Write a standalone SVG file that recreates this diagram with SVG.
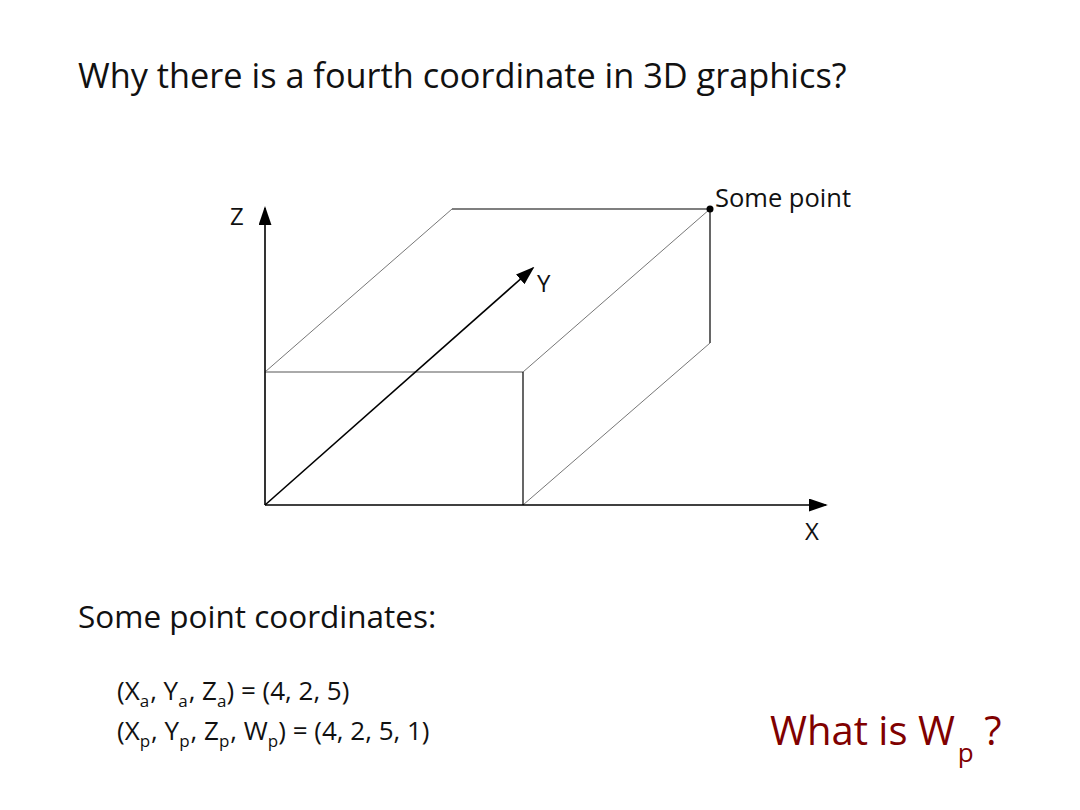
<svg xmlns="http://www.w3.org/2000/svg" width="1080" height="810" viewBox="0 0 1080 810">
<style>
text{font-family:"Open Sans","DejaVu Sans",sans-serif;fill:#111}
.e{stroke:#000;stroke-width:1.2;fill:none}
.g{stroke:#777;stroke-width:1;fill:none}
.ax{stroke:#000;stroke-width:1.6;fill:none}
.s{font-size:17px}
</style>
<defs>
<marker id="arb" viewBox="0 0 10 10" refX="9" refY="5" markerWidth="19" markerHeight="13" markerUnits="userSpaceOnUse" orient="auto" preserveAspectRatio="none">
<path d="M0,0L10,5L0,10z" fill="#000"/>
</marker>
</defs>
<rect width="1080" height="810" fill="#fff"/>
<text x="78" y="88" font-size="34.3">Why there is a fourth coordinate in 3D graphics?</text>
<g id="box">
<line class="g" x1="265" y1="372" x2="452" y2="209"/>
<line class="g" x1="523" y1="372" x2="710" y2="209"/>
<line class="g" x1="523" y1="505" x2="710" y2="343"/>
<line x1="265" y1="372" x2="523" y2="372" stroke="#aaa" stroke-width="2"/>
<line class="e" x1="452" y1="209" x2="710" y2="209"/>
<line class="e" x1="710" y1="209" x2="710" y2="343"/>
<line class="e" x1="523" y1="372" x2="523" y2="505"/>
</g>
<g id="axes">
<line class="ax" x1="265" y1="505" x2="265" y2="208" marker-end="url(#arb)"/>
<line class="ax" x1="265" y1="505" x2="826" y2="505" marker-end="url(#arb)"/>
<line class="ax" x1="265" y1="505" x2="533" y2="268" marker-end="url(#arb)"/>
</g>
<g id="labels">
<text x="230" y="225" font-size="24">Z</text>
<text x="805" y="540" font-size="24">X</text>
<text x="537" y="292" font-size="24">Y</text>
</g>
<g id="point">
<circle cx="710" cy="209" r="3.5" fill="#000"/>
<text x="715" y="207" font-size="25.5">Some point</text>
</g>
<g id="coords">
<text x="78" y="628" font-size="31.5">Some point coordinates:</text>
<text x="117" y="700" font-size="26">(X<tspan class="s" dy="7">a</tspan><tspan dy="-7" dx="1">, Y</tspan><tspan class="s" dy="7">a</tspan><tspan dy="-7" dx="1">, Z</tspan><tspan class="s" dy="7">a</tspan><tspan dy="-7">) = (4, 2, 5)</tspan></text>
<text x="117" y="740" font-size="26">(X<tspan class="s" dy="7">p</tspan><tspan dy="-7" dx="1">, Y</tspan><tspan class="s" dy="7">p</tspan><tspan dy="-7" dx="1">, Z</tspan><tspan class="s" dy="7">p</tspan><tspan dy="-7" dx="1">, W</tspan><tspan class="s" dy="7">p</tspan><tspan dy="-7">) = (4, 2, 5, 1)</tspan></text>
</g>
<g id="question">
<text x="770" y="745" font-size="40" style="fill:#800000">What is W<tspan font-size="26" dy="17" dx="3">p</tspan><tspan dy="-17"> ?</tspan></text>
</g>
</svg>
